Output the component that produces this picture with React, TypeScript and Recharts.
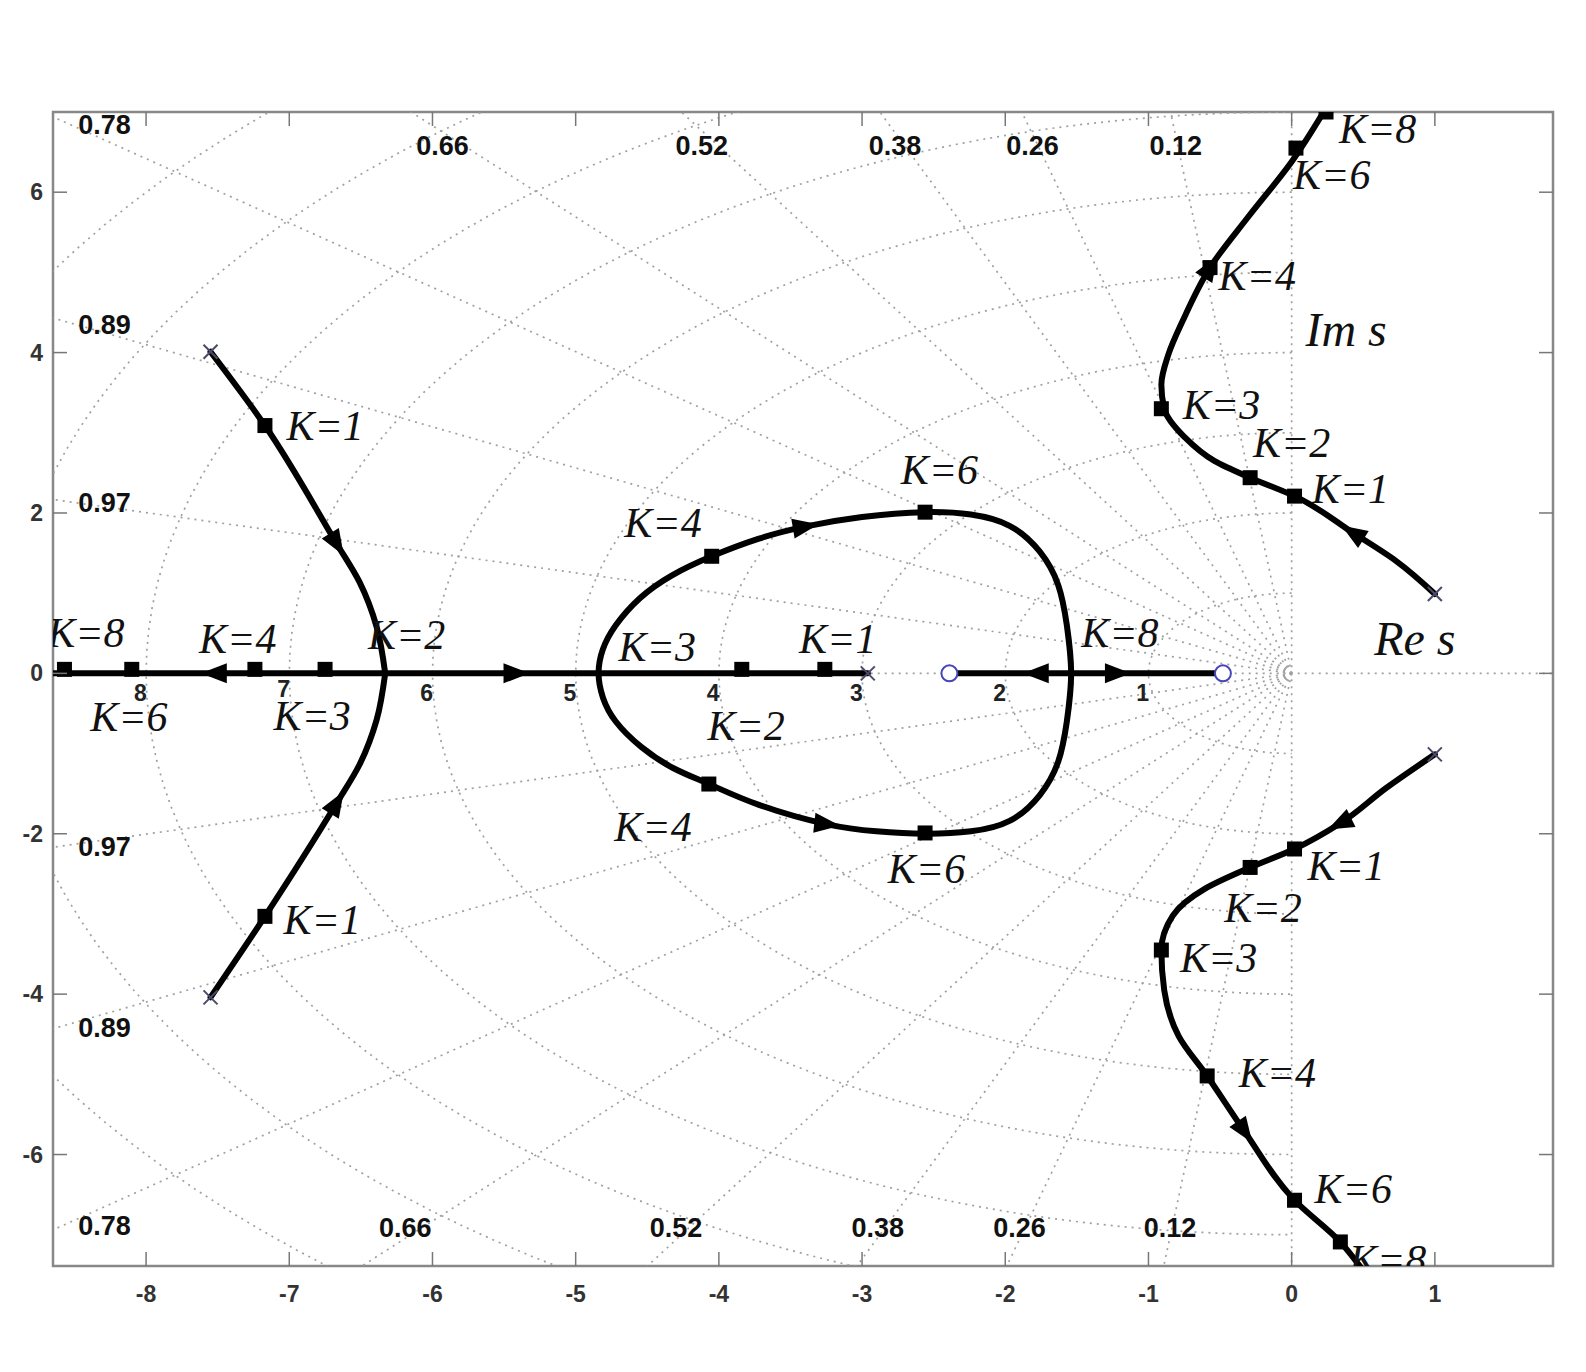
import React from "react";
import {
  ComposedChart,
  Scatter,
  XAxis,
  YAxis,
  ReferenceArea,
} from "recharts";

// plot geometry (px) and axis ranges
const W = 1586;
const H = 1372;
const PLOT_L = 53;
const PLOT_R = 1553;
const PLOT_T = 112;
const PLOT_B = 1266;
const X_MIN = -8.65;
const X_MAX = 1.825;
const Y_MIN = -7.39;
const Y_MAX = 7.0;
const PX = (PLOT_R - PLOT_L) / (X_MAX - X_MIN);
const PY = (PLOT_B - PLOT_T) / (Y_MAX - Y_MIN);

const xTicks = [-8, -7, -6, -5, -4, -3, -2, -1, 0, 1];
const yTicks = [-6, -4, -2, 0, 2, 4, 6];

// s-plane grid: damping ratios and natural frequencies
const zetas = [0.12, 0.26, 0.38, 0.52, 0.66, 0.78, 0.89, 0.97];
const wnRadii = [1, 2, 3, 4, 5, 6, 7, 8, 9, 10];

// root locus branches
const branchUpperLeft = [
  { x: -7.55, y: 4.01 },
  { x: -7.17, y: 3.09 },
  { x: -6.67, y: 1.62 },
  { x: -6.51, y: 1.14 },
  { x: -6.39, y: 0.58 },
  { x: -6.33, y: 0 },
];
const branchLowerLeft = [
  { x: -7.55, y: -4.04 },
  { x: -7.17, y: -3.03 },
  { x: -6.67, y: -1.62 },
  { x: -6.51, y: -1.14 },
  { x: -6.39, y: -0.58 },
  { x: -6.33, y: 0 },
];
const realLeft = [
  { x: -8.65, y: 0 },
  { x: -2.96, y: 0 },
];
const realRight = [
  { x: -2.39, y: 0 },
  { x: -0.48, y: 0 },
];
// closed loop: from the right crossing, over the top, round the left, back under
const loop = [
  { x: -1.57, y: -0.6 },
  { x: -1.54, y: 0 },
  { x: -1.57, y: 0.6 },
  { x: -1.63, y: 1.1 },
  { x: -1.76, y: 1.52 },
  { x: -1.97, y: 1.84 },
  { x: -2.24, y: 1.98 },
  { x: -2.56, y: 2.01 },
  { x: -3.0, y: 1.95 },
  { x: -3.4, y: 1.83 },
  { x: -3.72, y: 1.68 },
  { x: -4.05, y: 1.46 },
  { x: -4.33, y: 1.22 },
  { x: -4.55, y: 0.94 },
  { x: -4.72, y: 0.6 },
  { x: -4.81, y: 0.3 },
  { x: -4.84, y: 0 },
  { x: -4.81, y: -0.3 },
  { x: -4.72, y: -0.6 },
  { x: -4.54, y: -0.92 },
  { x: -4.32, y: -1.18 },
  { x: -4.07, y: -1.38 },
  { x: -3.72, y: -1.64 },
  { x: -3.25, y: -1.88 },
  { x: -2.9, y: -1.97 },
  { x: -2.56, y: -2.0 },
  { x: -2.24, y: -1.97 },
  { x: -1.97, y: -1.84 },
  { x: -1.76, y: -1.52 },
  { x: -1.63, y: -1.1 },
  { x: -1.57, y: -0.6 },
  { x: -1.54, y: 0 },
  { x: -1.57, y: 0.6 },
];
const branchUpperRight = [
  { x: 1.0, y: 0.99 },
  { x: 0.73, y: 1.4 },
  { x: 0.43, y: 1.75 },
  { x: 0.02, y: 2.21 },
  { x: -0.29, y: 2.44 },
  { x: -0.54, y: 2.65 },
  { x: -0.75, y: 2.95 },
  { x: -0.89, y: 3.3 },
  { x: -0.91, y: 3.6 },
  { x: -0.86, y: 3.98 },
  { x: -0.76, y: 4.4 },
  { x: -0.57, y: 5.06 },
  { x: -0.3, y: 5.7 },
  { x: 0.0, y: 6.38 },
  { x: 0.24, y: 7.05 },
];
const branchLowerRight = [
  { x: 1.0, y: -1.01 },
  { x: 0.66, y: -1.43 },
  { x: 0.34, y: -1.87 },
  { x: 0.02, y: -2.19 },
  { x: -0.29, y: -2.42 },
  { x: -0.61, y: -2.69 },
  { x: -0.83, y: -3.02 },
  { x: -0.91, y: -3.45 },
  { x: -0.89, y: -3.95 },
  { x: -0.79, y: -4.52 },
  { x: -0.59, y: -5.02 },
  { x: -0.33, y: -5.71 },
  { x: 0.02, y: -6.57 },
  { x: 0.34, y: -7.09 },
  { x: 0.48, y: -7.4 },
];

// gain markers (squares)
const gainMarks = [
  { x: -7.17, y: 3.09 },
  { x: -7.17, y: -3.03 },
  { x: -8.57, y: 0.05 },
  { x: -8.1, y: 0.05 },
  { x: -7.24, y: 0.05 },
  { x: -6.75, y: 0.05 },
  { x: -3.84, y: 0.05 },
  { x: -3.26, y: 0.05 },
  { x: -4.05, y: 1.46 },
  { x: -2.56, y: 2.01 },
  { x: -4.07, y: -1.38 },
  { x: -2.56, y: -1.99 },
  { x: 0.02, y: 2.21 },
  { x: -0.29, y: 2.44 },
  { x: -0.91, y: 3.3 },
  { x: -0.57, y: 5.06 },
  { x: 0.03, y: 6.55 },
  { x: 0.24, y: 7.0 },
  { x: 0.02, y: -2.19 },
  { x: -0.29, y: -2.42 },
  { x: -0.91, y: -3.45 },
  { x: -0.59, y: -5.02 },
  { x: 0.02, y: -6.57 },
  { x: 0.34, y: -7.09 },
];

// direction arrows: position and direction of travel
const arrows = [
  { x: -6.67, y: 1.62, dx: 0.67, dy: -1.96 },
  { x: -6.67, y: -1.62, dx: 0.67, dy: 1.96 },
  { x: -7.52, y: 0, dx: -1, dy: 0 },
  { x: -5.42, y: 0, dx: 1, dy: 0 },
  { x: -3.4, y: 1.83, dx: 1, dy: 0.3 },
  { x: -3.25, y: -1.88, dx: 1, dy: -0.2 },
  { x: -1.78, y: 0, dx: -1, dy: 0 },
  { x: -1.22, y: 0, dx: 1, dy: 0 },
  { x: 0.43, y: 1.75, dx: -0.8, dy: 0.9 },
  { x: -0.57, y: 5.06, dx: 0.45, dy: 1.3 },
  { x: 0.34, y: -1.87, dx: -0.8, dy: -0.7 },
  { x: -0.33, y: -5.71, dx: 0.5, dy: -1.3 },
];

const poles = [
  { x: -7.55, y: 4.01 },
  { x: -7.55, y: -4.04 },
  { x: -2.96, y: 0 },
  { x: 1.0, y: 0.99 },
  { x: 1.0, y: -1.01 },
];
const zeros = [
  { x: -2.39, y: 0 },
  { x: -0.48, y: 0 },
];

const kLabels = [
  { x: -6.75, y: 3.09, t: "K=1" },
  { x: -6.77, y: -3.07, t: "K=1" },
  { x: -8.42, y: 0.5, t: "K=8" },
  { x: -8.12, y: -0.55, t: "K=6" },
  { x: -7.36, y: 0.43, t: "K=4" },
  { x: -6.84, y: -0.53, t: "K=3" },
  { x: -6.18, y: 0.48, t: "K=2" },
  { x: -4.43, y: 0.33, t: "K=3" },
  { x: -3.17, y: 0.43, t: "K=1" },
  { x: -3.81, y: -0.66, t: "K=2" },
  { x: -4.39, y: 1.87, t: "K=4" },
  { x: -2.46, y: 2.53, t: "K=6" },
  { x: -4.46, y: -1.91, t: "K=4" },
  { x: -2.55, y: -2.44, t: "K=6" },
  { x: -1.2, y: 0.5, t: "K=8" },
  { x: 0.6, y: 6.79, t: "K=8" },
  { x: 0.28, y: 6.21, t: "K=6" },
  { x: -0.24, y: 4.96, t: "K=4" },
  { x: -0.49, y: 3.35, t: "K=3" },
  { x: 0.0, y: 2.87, t: "K=2" },
  { x: 0.41, y: 2.3, t: "K=1" },
  { x: 0.38, y: -2.4, t: "K=1" },
  { x: -0.2, y: -2.92, t: "K=2" },
  { x: -0.51, y: -3.55, t: "K=3" },
  { x: -0.1, y: -4.98, t: "K=4" },
  { x: 0.43, y: -6.43, t: "K=6" },
  { x: 0.67, y: -7.31, t: "K=8" },
];
const axisNames = [
  { x: 0.38, y: 4.29, t: "Im s" },
  { x: 0.86, y: 0.43, t: "Re s" },
];
const zetaLabels = [
  { x: -8.29, y: 6.84, t: "0.78" },
  { x: -5.93, y: 6.58, t: "0.66" },
  { x: -4.12, y: 6.58, t: "0.52" },
  { x: -2.77, y: 6.58, t: "0.38" },
  { x: -1.81, y: 6.58, t: "0.26" },
  { x: -0.81, y: 6.58, t: "0.12" },
  { x: -8.29, y: 4.35, t: "0.89" },
  { x: -8.29, y: 2.13, t: "0.97" },
  { x: -8.29, y: -2.16, t: "0.97" },
  { x: -8.29, y: -4.42, t: "0.89" },
  { x: -8.29, y: -6.89, t: "0.78" },
  { x: -6.19, y: -6.92, t: "0.66" },
  { x: -4.3, y: -6.92, t: "0.52" },
  { x: -2.89, y: -6.92, t: "0.38" },
  { x: -1.9, y: -6.92, t: "0.26" },
  { x: -0.85, y: -6.92, t: "0.12" },
];
const wnLabels = [
  { x: -8.04, y: -0.25, t: "8" },
  { x: -7.04, y: -0.2, t: "7" },
  { x: -6.04, y: -0.25, t: "6" },
  { x: -5.04, y: -0.25, t: "5" },
  { x: -4.04, y: -0.25, t: "4" },
  { x: -3.04, y: -0.25, t: "3" },
  { x: -2.04, y: -0.25, t: "2" },
  { x: -1.04, y: -0.25, t: "1" },
];

// grid geometry built from the zeta / wn lists
const rayData = zetas.flatMap((z) => {
  const s = Math.sqrt(1 - z * z);
  return [
    [{ x: 0, y: 0 }, { x: -z * 20, y: s * 20 }],
    [{ x: 0, y: 0 }, { x: -z * 20, y: -s * 20 }],
  ];
});
const circleData = wnRadii.map((r) => {
  const pts = [];
  for (let a = 90; a <= 270; a += 2) {
    const t = (a * Math.PI) / 180;
    pts.push({ x: r * Math.cos(t), y: r * Math.sin(t) });
  }
  return pts;
});
const axisGrid = [
  [{ x: -20, y: 0 }, { x: 20, y: 0 }],
  [{ x: 0, y: -20 }, { x: 0, y: 20 }],
];

const gridLine = { stroke: "#a0a0a0", strokeWidth: 1.7, strokeDasharray: "2 5" };
const locusLine = { stroke: "#000", strokeWidth: 6, strokeLinejoin: "round", strokeLinecap: "round" };

const noDot = () => <g />;

const squareShape = (p: any) => (
  <rect x={p.cx - 7.5} y={p.cy - 7.5} width={15} height={15} fill="#000" />
);

const arrowShape = (p: any) => {
  const ang = (Math.atan2(-p.payload.dy * PY, p.payload.dx * PX) * 180) / Math.PI;
  return (
    <polygon
      points="14,0 -12,-10 -12,10"
      transform={`translate(${p.cx},${p.cy}) rotate(${ang})`}
      fill="#000"
    />
  );
};

const poleShape = (p: any) => (
  <g stroke="#4a4a6a" strokeWidth={2}>
    <line x1={p.cx - 7} y1={p.cy - 7} x2={p.cx + 7} y2={p.cy + 7} />
    <line x1={p.cx - 7} y1={p.cy + 7} x2={p.cx + 7} y2={p.cy - 7} />
  </g>
);

const zeroShape = (p: any) => (
  <circle cx={p.cx} cy={p.cy} r={8} fill="#fff" stroke="#4646b8" strokeWidth={2} />
);

const textShape = (style: any) => (p: any) => (
  <text x={p.cx} y={p.cy} textAnchor="middle" dominantBaseline="central" {...style}>
    {p.payload.t}
  </text>
);

const kStyle = { fontFamily: "Liberation Serif", fontStyle: "italic", fontSize: 42, fill: "#111" };
const nameStyle = { fontFamily: "Liberation Serif", fontStyle: "italic", fontSize: 48, fill: "#111" };
const zetaStyle = { fontFamily: "Liberation Sans", fontWeight: 700, fontSize: 27, fill: "#111" };
const wnStyle = { fontFamily: "Liberation Sans", fontWeight: 700, fontSize: 23, fill: "#222" };

const XTick = (p: any) => (
  <g>
    <line x1={p.x} x2={p.x} y1={PLOT_B} y2={PLOT_B - 14} stroke="#777" strokeWidth={1.5} />
    <line x1={p.x} x2={p.x} y1={PLOT_T} y2={PLOT_T + 14} stroke="#777" strokeWidth={1.5} />
    <text
      x={p.x}
      y={PLOT_B + 28}
      textAnchor="middle"
      dominantBaseline="central"
      fontFamily="Liberation Sans"
      fontWeight={700}
      fontSize={23}
      fill="#333"
    >
      {p.payload.value}
    </text>
  </g>
);

const YTick = (p: any) => (
  <g>
    <line x1={PLOT_L} x2={PLOT_L + 14} y1={p.y} y2={p.y} stroke="#777" strokeWidth={1.5} />
    <line x1={PLOT_R} x2={PLOT_R - 14} y1={p.y} y2={p.y} stroke="#777" strokeWidth={1.5} />
    <text
      x={PLOT_L - 10}
      y={p.y}
      textAnchor="end"
      dominantBaseline="central"
      fontFamily="Liberation Sans"
      fontWeight={700}
      fontSize={23}
      fill="#333"
    >
      {p.payload.value}
    </text>
  </g>
);

const locusBranches = [
  { d: branchUpperLeft, type: "monotoneY" },
  { d: branchLowerLeft, type: "monotoneY" },
  { d: realLeft, type: "linear" },
  { d: realRight, type: "linear" },
  { d: loop, type: "natural" },
  { d: branchUpperRight, type: "monotoneY" },
  { d: branchLowerRight, type: "monotoneY" },
];

export default function App() {
  return (
    <div style={{ position: "absolute", left: 0, top: 0, width: W, height: H, background: "#fff" }}>
      <ComposedChart
        width={W}
        height={H}
        margin={{ top: PLOT_T, right: W - PLOT_R, bottom: H - PLOT_B - 40, left: PLOT_L - 50 }}
      >
        <XAxis
          type="number"
          dataKey="x"
          domain={[X_MIN, X_MAX]}
          ticks={xTicks}
          allowDataOverflow
          height={40}
          tickLine={false}
          axisLine={false}
          tick={<XTick />}
        />
        <YAxis
          type="number"
          dataKey="y"
          domain={[Y_MIN, Y_MAX]}
          ticks={yTicks}
          allowDataOverflow
          width={50}
          tickLine={false}
          axisLine={false}
          tick={<YTick />}
        />

        {axisGrid.map((d, i) => (
          <Scatter key={`ax${i}`} data={d} line={gridLine} shape={noDot} isAnimationActive={false} />
        ))}
        {rayData.map((d, i) => (
          <Scatter key={`ray${i}`} data={d} line={gridLine} shape={noDot} isAnimationActive={false} />
        ))}
        {circleData.map((d, i) => (
          <Scatter key={`wn${i}`} data={d} line={gridLine} shape={noDot} isAnimationActive={false} />
        ))}

        <ReferenceArea
          x1={X_MIN}
          x2={X_MAX}
          y1={Y_MIN}
          y2={Y_MAX}
          fill="none"
          stroke="#888"
          strokeWidth={2.5}
          ifOverflow="visible"
        />

        <Scatter data={zetaLabels} shape={textShape(zetaStyle)} isAnimationActive={false} />
        <Scatter data={wnLabels} shape={textShape(wnStyle)} isAnimationActive={false} />

        {locusBranches.map((b, i) => (
          <Scatter
            key={`br${i}`}
            data={b.d}
            line={locusLine}
            lineJointType={b.type as any}
            shape={noDot}
            isAnimationActive={false}
          />
        ))}

        <Scatter data={gainMarks} shape={squareShape} isAnimationActive={false} />
        <Scatter data={arrows} shape={arrowShape} isAnimationActive={false} />
        <Scatter data={poles} shape={poleShape} isAnimationActive={false} />
        <Scatter data={zeros} shape={zeroShape} isAnimationActive={false} />

        <Scatter data={kLabels} shape={textShape(kStyle)} isAnimationActive={false} />
        <Scatter data={axisNames} shape={textShape(nameStyle)} isAnimationActive={false} />
      </ComposedChart>
    </div>
  );
}
